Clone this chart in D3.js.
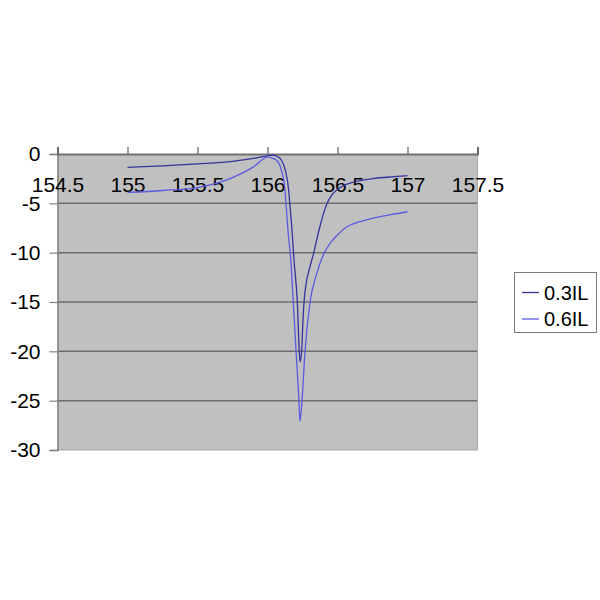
<!DOCTYPE html>
<html>
<head>
<meta charset="utf-8">
<script src="https://cdn.jsdelivr.net/npm/d3@7"></script>
<style>
html,body{margin:0;padding:0;background:#fff;}
svg{display:block;font-family:"Liberation Sans",Arial,sans-serif;}
</style>
</head>
<body>
<svg id="chart" width="600" height="600"></svg>
<script>
// ---- data ----
const xTicks = [154.5, 155, 155.5, 156, 156.5, 157, 157.5];
const yTicks = [0, -5, -10, -15, -20, -25, -30];
const seriesNames = ["0.3IL", "0.6IL"];

const x03 = [155, 155.25, 155.5, 155.75, 155.9, 156.0, 156.039, 156.07, 156.099, 156.127, 156.151, 156.159, 156.175, 156.189, 156.213, 156.227, 156.232, 156.244, 156.252, 156.261, 156.275, 156.3, 156.327, 156.37, 156.42, 156.46, 156.5, 156.55, 156.6, 156.75, 156.9, 157];
const y03 = [-1.35, -1.2, -1.0, -0.75, -0.45, -0.18, -0.1, -0.25, -0.61, -1.62, -3.65, -5.0, -7.7, -10.7, -15.0, -20.0, -21.05, -20.0, -17.3, -15.0, -13.2, -11.6, -10.2, -7.6, -5.2, -4.15, -3.6, -3.15, -2.9, -2.5, -2.3, -2.2];

const x06 = [155, 155.25, 155.5, 155.75, 155.9, 156.004, 156.03, 156.063, 156.099, 156.123, 156.132, 156.146, 156.166, 156.184, 156.204, 156.225, 156.232, 156.246, 156.268, 156.304, 156.35, 156.399, 156.45, 156.5, 156.565, 156.65, 156.755, 156.88, 157];
const y06 = [-3.9, -3.7, -3.4, -2.4, -1.3, -0.3, -0.4, -0.61, -1.62, -3.4, -5.0, -7.7, -10.7, -15.0, -20.0, -25.1, -27.1, -25.1, -20.0, -15.0, -12.2, -10.2, -9.0, -8.2, -7.4, -6.9, -6.5, -6.15, -5.85];

const colors = ["#34349e", "#5a5ae0"];

// ---- layout ----
const svg = d3.select("#chart");
const mLeft = 57.5, mRight = 477.5, mTop = 154, mBottom = 450;

const x = d3.scaleLinear().domain([154.5, 157.5]).range([mLeft, mRight]);
const y = d3.scaleLinear().domain([0, -30]).range([mTop, mBottom]);

// plot area
svg.append("rect")
  .attr("x", mLeft).attr("y", mTop)
  .attr("width", mRight - mLeft).attr("height", mBottom - mTop)
  .attr("fill", "#c0c0c0");

// gridlines
svg.append("g").selectAll("line")
  .data(yTicks.filter(d => d !== 0 && d !== -30))
  .join("line")
  .attr("x1", mLeft).attr("x2", mRight)
  .attr("y1", d => y(d)).attr("y2", d => y(d))
  .attr("stroke", "#6e6e6e").attr("stroke-width", 1.5);

// right / bottom border (light)
svg.append("line")
  .attr("x1", mRight).attr("x2", mRight).attr("y1", mTop).attr("y2", mBottom)
  .attr("stroke", "#a8a8a8").attr("stroke-width", 1);
svg.append("line")
  .attr("x1", mLeft).attr("x2", mRight).attr("y1", mBottom).attr("y2", mBottom)
  .attr("stroke", "#a8a8a8").attr("stroke-width", 1);

// y axis
const yAxis = d3.axisLeft(y).tickValues(yTicks).tickSize(8).tickPadding(10).tickFormat(d => String(d));
const gy = svg.append("g").attr("transform", `translate(${mLeft},0)`).call(yAxis);
gy.select(".domain").attr("stroke", "#808080").attr("stroke-width", 1.5);
gy.selectAll(".tick line").attr("stroke", "#808080").attr("stroke-width", 1.2);
gy.selectAll(".tick text").attr("font-size", 21).attr("fill", "#000")
  .attr("font-family", "Liberation Sans, Arial, sans-serif").attr("x", -17);

// x axis at y=0 (top), labels below the line
const xAxis = d3.axisTop(x).tickValues(xTicks).tickSize(7).tickFormat(d => String(d));
const gx = svg.append("g").attr("transform", `translate(0,${y(0)})`).call(xAxis);
gx.select(".domain").attr("stroke", "#707070").attr("stroke-width", 2);
gx.selectAll(".tick line").attr("stroke", "#606060").attr("stroke-width", 1.2);
gx.selectAll(".tick text").attr("font-size", 21).attr("fill", "#000")
  .attr("font-family", "Liberation Sans, Arial, sans-serif")
  .attr("y", 38).attr("dy", 0);

// lines
const line = d3.line().x(d => x(d[0])).y(d => y(d[1])).curve(d3.curveMonotoneX);
const data = [d3.zip(x03, y03), d3.zip(x06, y06)];
svg.append("g").selectAll("path").data(data).join("path")
  .attr("d", line)
  .attr("fill", "none")
  .attr("stroke", (d, i) => colors[i])
  .attr("stroke-width", 1.3);

// legend
const lg = svg.append("g");
lg.append("rect").attr("x", 514.5).attr("y", 272.5).attr("width", 82).attr("height", 60)
  .attr("fill", "#fff").attr("stroke", "#7a7a7a").attr("stroke-width", 1);
seriesNames.forEach((n, i) => {
  const yy = 292.5 + i * 26.5;
  lg.append("line").attr("x1", 522).attr("x2", 539).attr("y1", yy).attr("y2", yy)
    .attr("stroke", colors[i]).attr("stroke-width", 1.3);
  lg.append("text").attr("x", 544).attr("y", yy).attr("dy", "0.36em")
    .attr("font-size", 20).attr("fill", "#000").text(n);
});
</script>
</body>
</html>
